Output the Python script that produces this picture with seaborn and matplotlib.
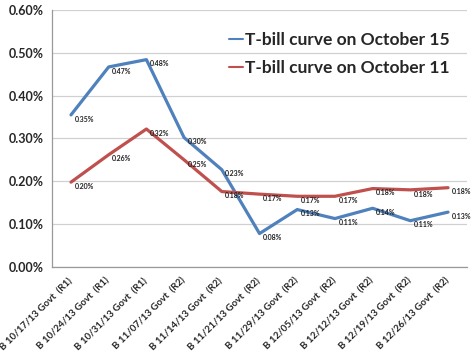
import numpy as np
import pandas as pd
import matplotlib
matplotlib.use('Agg')
import matplotlib.pyplot as plt
import matplotlib.transforms as mtransforms
import seaborn as sns

sns.set_style('white')
plt.rcParams['font.family'] = ['Lato', 'DejaVu Sans']

categories = [
    'B 10/17/13 Govt  (R1)', 'B 10/24/13 Govt  (R1)', 'B 10/31/13 Govt  (R1)',
    'B 11/07/13 Govt  (R2)', 'B 11/14/13 Govt  (R2)', 'B 11/21/13 Govt  (R2)',
    'B 11/29/13 Govt  (R2)', 'B 12/05/13 Govt  (R2)', 'B 12/12/13 Govt  (R2)',
    'B 12/19/13 Govt  (R2)', 'B 12/26/13 Govt  (R2)',
]
oct15 = [0.355, 0.467, 0.484, 0.302, 0.227, 0.078, 0.134, 0.113, 0.137, 0.108, 0.128]
oct11 = [0.198, 0.262, 0.322, 0.250, 0.176, 0.170, 0.165, 0.165, 0.183, 0.180, 0.185]
series = ['T-bill curve on October 15', 'T-bill curve on October 11']

rows = []
for name, vals in zip(series, [oct15, oct11]):
    for i, v in enumerate(vals):
        rows.append({'pos': i, 'rate': v, 'curve': name})
df = pd.DataFrame(rows)

fig = plt.figure(figsize=(4.74, 3.55), dpi=100)
ax = fig.add_axes([0.11, 0.248, 0.875, 0.724])

palette = {series[0]: '#4F81BD', series[1]: '#C0504D'}
sns.lineplot(data=df, x='pos', y='rate', hue='curve', palette=palette,
             linewidth=2.3, ax=ax)

# data labels
for vals in [oct15, oct11]:
    for i, v in enumerate(vals):
        ax.annotate(f'{v:.2f}%', (i, v), xytext=(2.5, -3), textcoords='offset points',
                    fontsize=5, fontweight='bold', ha='left', va='center',
                    color='#222222')

ax.set_xlim(-0.5, len(categories) - 0.5)
ax.set_ylim(0, 0.6)
yt = np.arange(0, 0.61, 0.1)
ax.set_yticks(yt)
ax.set_yticklabels([f'{t:.2f}%' for t in yt], fontsize=9, fontweight='bold')
ax.set_xticks(range(len(categories)))
ax.set_xticklabels(categories, rotation=45, ha='right', va='center',
                   rotation_mode='anchor', fontsize=7, fontweight='bold')
shift = mtransforms.ScaledTranslation(4 / 72, 0, fig.dpi_scale_trans)
for lab in ax.get_xticklabels():
    lab.set_transform(lab.get_transform() + shift)
ax.set_xticks(np.arange(-0.5, len(categories), 1), minor=True)
ax.tick_params(axis='x', which='major', length=0, pad=9)
ax.tick_params(axis='x', which='minor', length=4, color='#999999', direction='out')
ax.tick_params(axis='y', length=4, color='#999999', direction='out', pad=2)

ax.grid(axis='y', color='#d0d0d0', linewidth=0.9)
ax.set_axisbelow(True)
for s in ['top', 'right']:
    ax.spines[s].set_visible(False)
for s in ['left', 'bottom']:
    ax.spines[s].set_color('#999999')
    ax.spines[s].set_linewidth(0.9)
ax.set_xlabel('')
ax.set_ylabel('')

leg = ax.legend(loc='upper right', bbox_to_anchor=(0.995, 0.975), frameon=False,
                prop={'size': 12.5, 'weight': 'bold'}, handlelength=0.8,
                handletextpad=0.1, labelspacing=0.7)
for h in leg.get_lines():
    h.set_linewidth(1.5)

fig.savefig('out.png', dpi=100)
